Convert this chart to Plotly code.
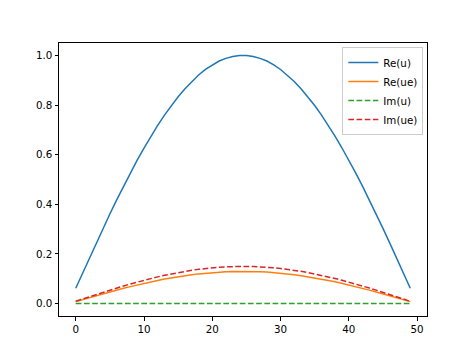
import plotly.graph_objects as go

x_idx = list(range(50))

half_re_u = [0.0616, 0.1229, 0.1837, 0.2439, 0.3032, 0.3612, 0.4180, 0.4730, 0.5264, 0.5778,
             0.6269, 0.6737, 0.7179, 0.7594, 0.7980, 0.8336, 0.8660, 0.8952, 0.9210, 0.9433,
             0.9622, 0.9775, 0.9882, 0.9957, 0.9995]
re_u = half_re_u + half_re_u[::-1]

half_re_ue = [0.0080, 0.0160, 0.0239, 0.0317, 0.0394, 0.0470, 0.0543, 0.0615, 0.0684, 0.0751,
              0.0815, 0.0876, 0.0933, 0.0987, 0.1037, 0.1084, 0.1126, 0.1164, 0.1197, 0.1226,
              0.1251, 0.1271, 0.1285, 0.1294, 0.1299]
re_ue = half_re_ue + half_re_ue[::-1]

im_u = [0.0] * 50

half_im_ue = [0.0092, 0.0184, 0.0276, 0.0366, 0.0455, 0.0542, 0.0627, 0.0710, 0.0790, 0.0867,
              0.0940, 0.1011, 0.1077, 0.1139, 0.1197, 0.1250, 0.1299, 0.1343, 0.1382, 0.1415,
              0.1443, 0.1466, 0.1482, 0.1494, 0.1499]
im_ue = half_im_ue + half_im_ue[::-1]

series = [
    ("Re(u)", re_u, "#1f77b4", "solid"),
    ("Re(ue)", re_ue, "#ff7f0e", "solid"),
    ("Im(u)", im_u, "#2ca02c", "5.7px,2.5px"),
    ("Im(ue)", im_ue, "#d62728", "5.7px,2.5px"),
]

fig = go.Figure()
for name, ys, color, dash in series:
    fig.add_trace(go.Scatter(x=x_idx, y=ys, mode="lines", name=name,
                             line=dict(color=color, width=1.5, dash=dash)))

axis_common = dict(showgrid=False, zeroline=False, showline=True, linecolor="black",
                   linewidth=0.8, mirror=True, ticks="outside", ticklen=3.6, tickwidth=0.8,
                   tickcolor="black", tickfont=dict(size=10.3, color="black"))

fig.update_xaxes(range=[-2.45, 51.45], tickvals=[0, 10, 20, 30, 40, 50], **axis_common)
fig.update_yaxes(range=[-0.05, 1.05], tickvals=[0.0, 0.2, 0.4, 0.6, 0.8, 1.0],
                 ticktext=["0.0", "0.2", "0.4", "0.6", "0.8", "1.0"], **axis_common)

fig.update_layout(
    width=474, height=355,
    margin=dict(l=59, r=47, t=43, b=39),
    paper_bgcolor="white", plot_bgcolor="white",
    font=dict(family="DejaVu Sans", size=10.3, color="black"),
    legend=dict(x=0.99, y=0.985, xanchor="right", yanchor="top",
                bgcolor="rgba(255,255,255,0.8)", bordercolor="#cccccc", borderwidth=1,
                font=dict(size=10.3), tracegroupgap=0, itemwidth=30),
    showlegend=True,
)

fig.write_html("out.html", config={"displayModeBar": False},
               post_script="document.body.style.margin='0';document.body.style.padding='0';")
